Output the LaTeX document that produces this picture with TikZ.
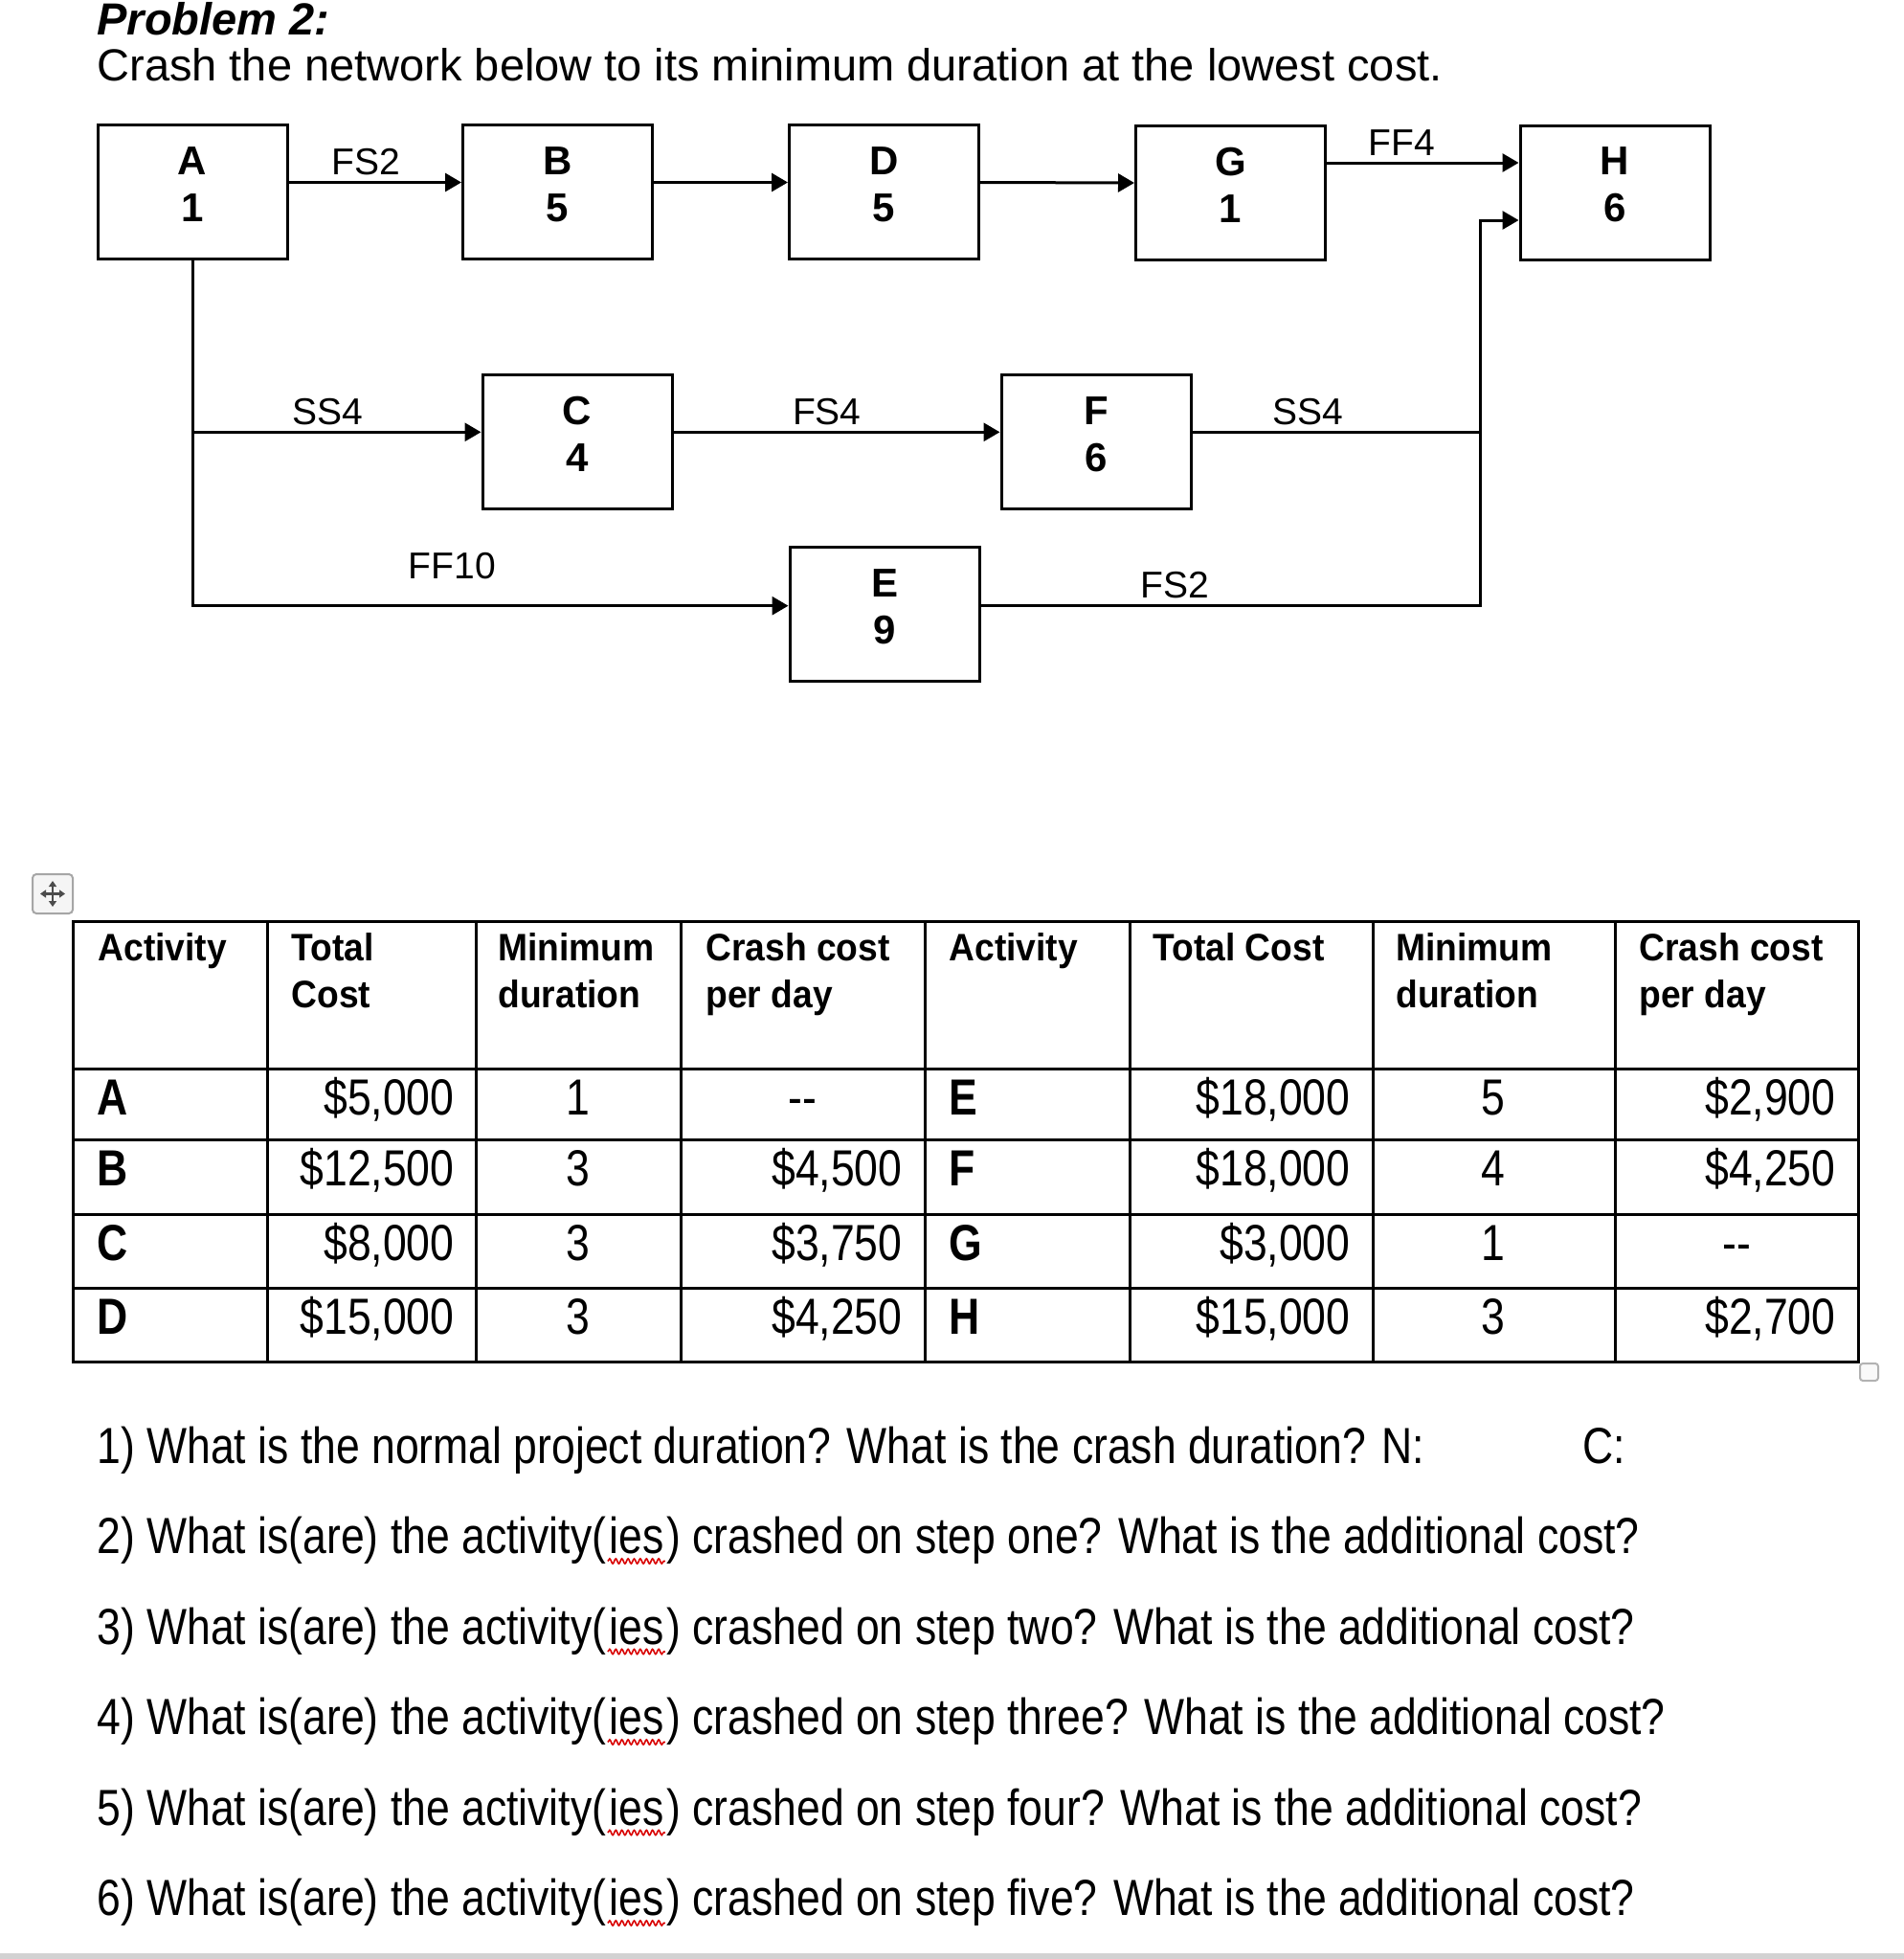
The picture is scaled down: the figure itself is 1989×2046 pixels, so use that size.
\documentclass[tikz,border=0pt]{standalone}
\usepackage{fontspec}
\setmainfont{Liberation Sans}
\newfontfamily\narrowfont[FakeStretch=0.84]{Liberation Sans}
\newfontfamily\headfont[FakeStretch=0.93]{Liberation Sans}
\usetikzlibrary{arrows.meta, decorations.pathmorphing}

\newcommand{\actbox}[2]{#1\\#2\rule[-8pt]{0pt}{8pt}}

\begin{document}
\begin{tikzpicture}[x=0.5pt, y=-0.5pt, line width=1.5pt,
  activity/.style={draw, minimum width=99pt, minimum height=70pt, inner sep=0pt, align=center,
    font=\bfseries\fontsize{21}{24.5}\selectfont},
  lag/.style={anchor=base, inner sep=0pt, yshift=4pt, font=\fontsize{19.5}{23}\selectfont},
  link/.style={-{Triangle[length=8.5pt, width=9.5pt]}},
  headcell/.style={anchor=base west, align=left, inner sep=0pt,
    font=\headfont\bfseries\fontsize{20}{24.5}\selectfont},
  cell/.style={inner sep=0pt, font=\narrowfont\fontsize{26.5}{30}\selectfont},
  rowname/.style={anchor=base west, inner sep=0pt, font=\narrowfont\bfseries\fontsize{26.5}{30}\selectfont},
  question/.style={anchor=base west, inner sep=0pt, font=\narrowfont\fontsize{26.5}{30}\selectfont},
  spell/.style={red!85!black, line width=0.8pt, decorate,
    decoration={snake, amplitude=1.3pt, segment length=3.2pt}}]
  \path[use as bounding box, fill=white] (0,0) rectangle (1989,2046);

  % heading
  \node[anchor=base west, inner sep=0pt, font=\bfseries\itshape\fontsize{23.5}{28}\selectfont] (prob) at (100,36) {Problem 2:};
  \node[anchor=base west, inner sep=0pt, font=\fontsize{23.5}{28}\selectfont] (task) at (100,84)
    {Crash the network below to its minimum duration at the lowest cost.};

  % activity boxes
  \node[activity] (A) at (201,200.5) {\actbox{A}{1}};
  \node[activity] (B) at (582.5,200.5) {\actbox{B}{5}};
  \node[activity] (D) at (923.5,200.5) {\actbox{D}{5}};
  \node[activity] (G) at (1285.5,201) {\actbox{G}{1}};
  \node[activity] (H) at (1687,201) {\actbox{H}{6}};
  \node[activity] (C) at (603,461.3) {\actbox{C}{4}};
  \node[activity] (F) at (1145,461.3) {\actbox{F}{6}};
  \node[activity] (E) at (924,641.3) {\actbox{E}{9}};

  % links
  \draw[link] ([yshift=5pt]A.east) -- node[lag, pos=0.45] (lAB) {FS2} ([yshift=5pt]B.west);
  \draw[link] ([yshift=5pt]B.east) -- ([yshift=5pt]D.west);
  \draw[link] ([yshift=5pt]D.east) -- ([yshift=5pt]G.west);
  \draw[link] ([yshift=15.5pt]G.east) -- node[lag, pos=0.39] (lGH) {FF4} ([yshift=15.5pt]H.west);
  \draw[link] (A.south) |- node[lag, pos=0.734] (lAC) {SS4} ([yshift=5pt]C.west);
  \draw[link] (A.south) |- node[lag, pos=0.718, yshift=10pt] (lAE) {FF10} ([yshift=4.3pt]E.west);
  \draw[link] ([yshift=5pt]C.east) -- node[lag, pos=0.47] (lCF) {FS4} ([yshift=5pt]F.west);
  \coordinate (hturn) at ([xshift=-20pt, yshift=-14.5pt]H.west);
  \coordinate (fout) at ([yshift=5pt]F.east);
  \draw[link] ([yshift=4.3pt]E.east) -| node[lag, pos=0.194] (lEH) {FS2} (hturn) -- ([yshift=-14.5pt]H.west);
  \draw (fout) -- node[lag, pos=0.4] (lFH) {SS4} (fout -| hturn);

  % table handle icons
  \draw[gray!70, line width=1pt, rounded corners=2pt, fill=gray!8] (34,913) rectangle (76,954);
  \draw[black!70, line width=1.2pt, {Triangle[length=3pt, width=4pt]}-{Triangle[length=3pt, width=4pt]}] (42,933.5) -- (68,933.5);
  \draw[black!70, line width=1.2pt, {Triangle[length=3pt, width=4pt]}-{Triangle[length=3pt, width=4pt]}] (55,920) -- (55,947);
  \draw[gray!60, line width=1pt, rounded corners=1.5pt, fill=gray!5] (1943,1424) rectangle (1962,1442);

  % table grid
  \draw (76,962) rectangle (1941,1422);
  \foreach \x in {279,497,711,966,1180,1434,1687} \draw (\x,962) -- (\x,1422);
  \foreach \y in {1116,1190,1268,1345} \draw (76,\y) -- (1941,\y);

  % table header (two-line cells sit on their last baseline)
  \node[headcell] (h1) at (101,1003) {Activity};
  \node[headcell] (h2) at (303,1052) {Total\\Cost};
  \node[headcell] (h3) at (519,1052) {Minimum\\duration};
  \node[headcell] (h4) at (736,1052) {Crash cost\\per day};
  \node[headcell] (h5) at (990,1003) {Activity};
  \node[headcell] (h6) at (1203,1003) {Total Cost};
  \node[headcell] (h7) at (1457,1052) {Minimum\\duration};
  \node[headcell] (h8) at (1711,1052) {Crash cost\\per day};

  % table rows
  \foreach \y/\la/\ta/\ma/\ca/\lb/\tb/\mb/\cb in {
      1164/A/{\$5,000}/1/{}/E/{\$18,000}/5/{\$2,900},
      1238/B/{\$12,500}/3/{\$4,500}/F/{\$18,000}/4/{\$4,250},
      1316/C/{\$8,000}/3/{\$3,750}/G/{\$3,000}/1/{},
      1393/D/{\$15,000}/3/{\$4,250}/H/{\$15,000}/3/{\$2,700}} {
    \node[rowname] (n\la) at (100,\y) {\la};
    \node[cell, anchor=base east] (t\la) at (476,\y) {\ta};
    \node[cell, anchor=base] (m\la) at (604,\y) {\ma};
    \node[cell, anchor=base east] (c\la) at (944,\y) {\ca};
    \node[rowname] (n\lb) at (990,\y) {\lb};
    \node[cell, anchor=base east] (t\lb) at (1412,\y) {\tb};
    \node[cell, anchor=base] (m\lb) at (1560,\y) {\mb};
    \node[cell, anchor=base east] (c\lb) at (1919,\y) {\cb};
  }
  \node[cell, anchor=base] (dashA) at (838,1164) {-{}-};
  \node[cell, anchor=base] (dashG) at (1814,1316) {-{}-};

  % questions
  \node[question] (q1) at (100,1528) {1) What is the normal project duration? What is the crash duration? N:};
  \node[question] (q1c) at (1652,1528) {C:};
  \foreach \n/\step [count=\k] in {2/one,3/two,4/three,5/four,6/five} {
    \node[question] (q\n a) at (100,{1528+94.5*\k}) {\n) What is(are) the activity(};
    \node[question] (q\n b) at (q\n a.base east) {ies};
    \node[question] (q\n c) at (q\n b.base east) {) crashed on step \step? What is the additional cost?};
    \draw[spell] ([yshift=-4pt]q\n b.base west) -- ([yshift=-4pt]q\n b.base east);
  }

  % bottom edge
  \fill[gray!35] (0,2040) rectangle (1989,2046);
\end{tikzpicture}
\end{document}
